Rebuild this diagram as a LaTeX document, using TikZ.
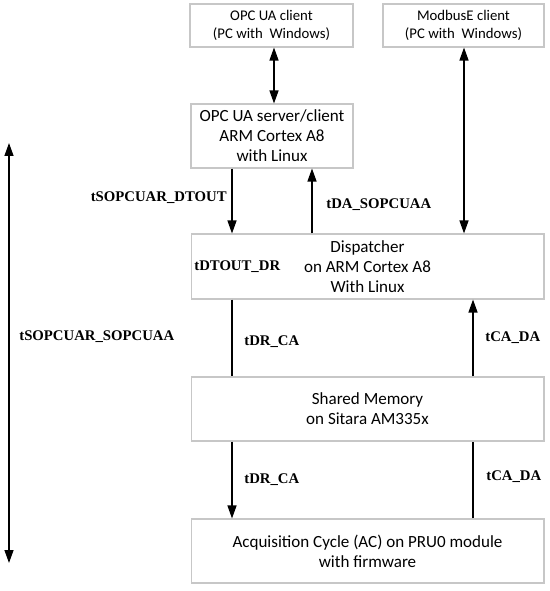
\documentclass[tikz,border=0pt]{standalone}
\usepackage{fontspec}
\setmainfont{Carlito}
\newfontfamily\lblfont{Liberation Serif}
\usetikzlibrary{arrows.meta}

\begin{document}
\begin{tikzpicture}[x=0.02cm,y=-0.02cm,
  blok/.style={draw=black!22,line width=0.6pt,align=center,inner sep=0pt,
    font=\fontsize{9.7}{11.4}\selectfont},
  klein/.style={blok,font=\fontsize{8.4}{10.2}\selectfont},
  tlabel/.style={inner sep=0pt,font=\lblfont\bfseries\fontsize{8.4}{10}\selectfont},
  ln/.style={line width=0.75pt},
  arr/.style={ln,-{Triangle[length=0.26cm,width=0.18cm]}},
  dbl/.style={ln,{Triangle[length=0.26cm,width=0.18cm]}-{Triangle[length=0.26cm,width=0.18cm]}}]
 \useasboundingbox (0,0) rectangle (550,591);

 \node[klein,minimum width=3.26cm,minimum height=0.86cm] (opcc) at (271.5,25.5) {OPC UA client\\(PC with\ \ Windows)};
 \node[klein,minimum width=3.22cm,minimum height=0.86cm] (mbc) at (463.5,25.5) {ModbusE client\\(PC with\ \ Windows)};
 \node[blok,minimum width=3.24cm,minimum height=1.28cm] (srv) at (272,136) {OPC UA server/client\\ARM Cortex A8\\with Linux};
 \node[blok,minimum width=7.06cm,minimum height=1.3cm] (dsp) at (367.5,266.5) {Dispatcher\\on ARM Cortex A8\\With Linux};
 \node[blok,minimum width=7.06cm,minimum height=1.28cm] (shm) at (367.5,409) {Shared Memory\\on Sitara AM335x};
 \node[blok,minimum width=7.06cm,minimum height=1.28cm] (acq) at (367.5,551) {Acquisition Cycle (AC) on PRU0 module\\with firmware};

 \coordinate (k0) at (274,0);
 \coordinate (k1) at (232,0);
 \coordinate (k2) at (312,0);
 \coordinate (k3) at (473,0);
 \coordinate (k4) at (464,0);
 \coordinate (ttop) at (9,143);
 \coordinate (tbot) at (9,563);

 \draw[dbl] (opcc.south -| k0) -- (srv.north -| k0);
 \draw[dbl] (mbc.south -| k4) -- (dsp.north -| k4);
 \draw[arr] (srv.south -| k1) -- (dsp.north -| k1);
 \draw[arr] (dsp.north -| k2) -- (srv.south -| k2);
 \draw[ln] (dsp.south -| k1) -- (shm.north -| k1);
 \draw[arr] (shm.north -| k3) -- (dsp.south -| k3);
 \draw[arr] (shm.south -| k1) -- (acq.north -| k1);
 \draw[ln] (acq.north -| k3) -- (shm.south -| k3);
 \draw[dbl] (ttop) -- (tbot);

 \node[tlabel,anchor=east] (lsd) at (227,198) {tSOPCUAR\_DTOUT};
 \node[tlabel,anchor=west] (lds) at (326,205) {tDA\_SOPCUAA};
 \node[tlabel,anchor=west] (ldd) at (194,267) {tDTOUT\_DR};
 \node[tlabel,anchor=west] (ldr1) at (244,342) {tDR\_CA};
 \node[tlabel,anchor=west] (lca1) at (485,338) {tCA\_DA};
 \node[tlabel,anchor=west] (ldr2) at (244,480) {tDR\_CA};
 \node[tlabel,anchor=west] (lca2) at (486,477) {tCA\_DA};
 \node[tlabel,anchor=west] (lss) at (19,337) {tSOPCUAR\_SOPCUAA};
\end{tikzpicture}
\end{document}
